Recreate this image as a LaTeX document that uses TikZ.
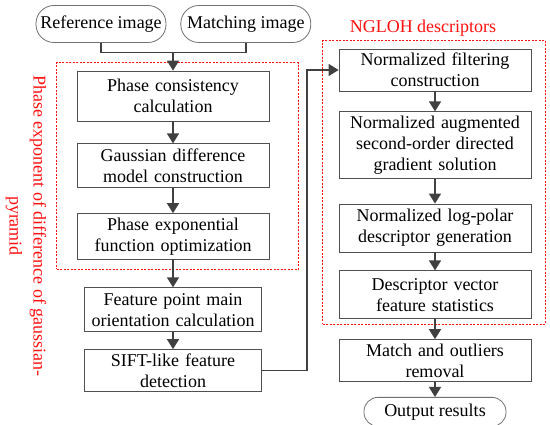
\documentclass[tikz,border=0pt]{standalone}
\usepackage{fontspec}
\setmainfont{Liberation Serif}
\usetikzlibrary{positioning,arrows.meta,fit}
\definecolor{linegray}{HTML}{404040}
\definecolor{boxgray}{HTML}{505050}
\definecolor{termgray}{HTML}{707070}
\definecolor{dotred}{HTML}{FF1010}

\begin{document}
\begin{tikzpicture}[x=1pt,y=-1pt,
    font=\fontsize{18}{21}\selectfont,
    box/.style={draw=boxgray,line width=0.8pt,align=center,inner sep=4pt,
      text width=#1,minimum height=44pt},
    box/.default=184pt,
    term/.style={draw=termgray,line width=0.8pt,rounded corners=18pt,
      minimum width=130pt,minimum height=37pt,inner sep=2pt},
    arr/.style={draw=linegray,line width=1.6pt,-{Triangle[width=12pt,length=10pt]}},
    link/.style={draw=linegray,line width=1.6pt},
    redbox/.style={draw=dotred,line width=1pt,dash pattern=on 2pt off 1.5pt,inner sep=0pt},
    redtext/.style={text=dotred}]
  \useasboundingbox (0,0) rectangle (550,425);

  \node[term] (ref) at (101,24) {Reference image};
  \node[term,right=14pt of ref] (match) {Matching image};

  \node[box,minimum height=50pt] (pc) at (173,96) {Phase consistency\\calculation};
  \node[box,below=22pt of pc] (gd) {Gaussian difference\\model construction};
  \node[box,below=25pt of gd] (pe) {Phase exponential\\function optimization};
  \node[box=169pt,below=28pt of pe] (fp) {Feature point main\\orientation calculation};
  \node[box=169pt,below=17pt of fp,minimum height=42pt] (sift) {SIFT-like feature\\detection};

  \node[box,minimum height=42pt] (nf) at (435,70) {Normalized filtering\\construction};
  \node[box,below=20pt of nf,minimum height=62pt] (na) {Normalized augmented\\second-order directed\\gradient solution};
  \node[box,below=25pt of na,minimum height=48pt] (lp) {Normalized log-polar\\descriptor generation};
  \node[box,below=18pt of lp,minimum height=48pt] (dv) {Descriptor vector\\feature statistics};
  \node[box,below=20pt of dv,minimum height=42pt] (mo) {Match and outliers\\removal};
  \node[term,below=15pt of mo,minimum width=142pt,minimum height=29pt,rounded corners=14pt] (out) {Output results};

  \node[redbox,fit={([xshift=-20pt,yshift=8pt]pc.north west) ([xshift=29pt,yshift=-10pt]pe.south east)}] (lgroup) {};
  \node[redbox,fit={([xshift=-16pt,yshift=8pt]nf.north west) ([xshift=14pt,yshift=-5pt]dv.south east)}] (rgroup) {};
  \node[redtext,anchor=base] (ngloh) at ([xshift=-11pt,yshift=8pt]rgroup.north) {NGLOH descriptors};
  \node[redtext,rotate=-90,align=center,font=\fontsize{18}{24}\selectfont] (plabel) at (26,226)
    {Phase exponent of difference of gaussian-\\pyramid};

  \coordinate (join) at ([yshift=18pt]pc.north);
  \draw[link] (ref.south) |- (join) -| (match.south);
  \draw[arr] (join) -- (pc);
  \draw[arr] (pc) -- (gd);
  \draw[arr] (gd) -- (pe);
  \draw[arr] (pe) -- (fp);
  \draw[arr] (fp) -- (sift);
  \draw[arr] (sift.east) -- ++(45pt,0) |- (nf.west);
  \draw[arr] (nf) -- (na);
  \draw[arr] (na) -- (lp);
  \draw[arr] (lp) -- (dv);
  \draw[arr] (dv) -- (mo);
  \draw[arr] (mo) -- (out);
\end{tikzpicture}
\end{document}
